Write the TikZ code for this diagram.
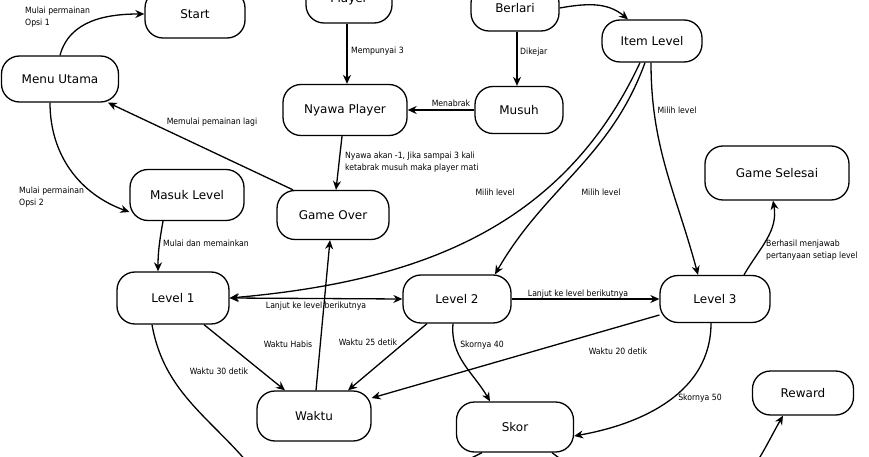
\documentclass[tikz,border=0pt]{standalone}
\usepackage{fontspec}
\setmainfont{DejaVu Sans}
\newfontfamily\condf{DejaVu Sans Condensed}
\usetikzlibrary{arrows.meta}
\begin{document}
\begin{tikzpicture}[x=1pt,y=-1pt,
 st/.style={draw,line width=1.3pt,rounded corners=18pt,inner sep=0pt,font=\fontsize{12}{14}\selectfont},
 ar/.style={line width=1.3pt,-{Stealth[length=9pt,width=8pt]}},
 ln/.style={line width=1.3pt},
 lb/.style={font=\condf\fontsize{8.6}{11.5}\selectfont,inner sep=1pt,align=left}]
\useasboundingbox (0,0) rectangle (869,457);
\clip (0,0) rectangle (869,457);
\node[st,minimum width=100pt,minimum height=48pt] (start) at (195,14) {Start};
\node[st,minimum width=86pt,minimum height=48pt] (player) at (349,-1) {Player};
\node[st,minimum width=88pt,minimum height=46pt] (berlari) at (515,8) {Berlari};
\node[st,minimum width=100pt,minimum height=42pt] (item) at (652,41) {Item Level};
\node[st,minimum width=117pt,minimum height=46pt] (menu) at (60,79) {Menu Utama};
\node[st,minimum width=124pt,minimum height=51pt] (nyawa) at (345,110) {Nyawa Player};
\node[st,minimum width=88pt,minimum height=47pt] (musuh) at (519,110) {Musuh};
\node[st,minimum width=114pt,minimum height=51pt] (masuk) at (187,195) {Masuk Level};
\node[st,minimum width=112pt,minimum height=49pt] (over) at (333,215) {Game Over};
\node[st,minimum width=144pt,minimum height=54pt] (selesai) at (777,173) {Game Selesai};
\node[st,minimum width=112pt,minimum height=52pt] (l1) at (173,298) {Level 1};
\node[st,minimum width=108pt,minimum height=48pt] (l2) at (457,299) {Level 2};
\node[st,minimum width=110pt,minimum height=47pt] (l3) at (715,299) {Level 3};
\node[st,minimum width=114pt,minimum height=50pt] (waktu) at (314,416) {Waktu};
\node[st,minimum width=117pt,minimum height=50pt] (skor) at (515,427) {Skor};
\node[st,minimum width=101pt,minimum height=44pt] (reward) at (803,393) {Reward};
\coordinate (bot) at (265,485);
\coordinate (botr) at (700,490);

\draw[ar] (menu.north) to[out=75,in=180] (start.west);
\node[lb,anchor=west] (t1) at (24,17) {Mulai permainan\\Opsi 1};
\draw[ar] ([xshift=-10pt]menu.south) to[out=-90,in=160] ([yshift=-17pt]masuk.west);
\node[lb,anchor=west] (t2) at (18,197) {Mulai permainan\\Opsi 2};
\draw[ar] ([xshift=-24pt]masuk.south) to[out=-100,in=90] ([xshift=-15pt]l1.north);
\node[lb,anchor=west] (t3) at (162,243) {Mulai dan memainkan};
\draw[ar] ([xshift=-40pt]over.north) -- ([xshift=48pt]menu.south);
\node[lb] (t4) at (212,122) {Memulai pemainan lagi};
\draw[ar] ([xshift=-2pt]player.south) -- ([xshift=2pt]nyawa.north);
\node[lb,anchor=west] (t5) at (350,51) {Mempunyai 3};
\draw[ar] ([xshift=-3pt]nyawa.south) -- ([xshift=3pt]over.north);
\node[lb,anchor=west] (t6) at (344,162) {Nyawa akan -1, Jika sampai 3 kali\\ketabrak musuh maka player mati};
\draw[ar] (musuh.west) -- (nyawa.east);
\node[lb] (t7) at (451,103) {Menabrak};
\draw[ar] ([xshift=2pt]berlari.south) -- ([xshift=-2pt]musuh.north);
\node[lb,anchor=west] (t8) at (519,52) {Dikejar};
\draw[ar] (berlari.east) to[out=10,in=140] ([xshift=-24pt]item.north);
\draw[ar] ([xshift=-12pt]item.south) to[out=-115,in=5] (l1.east);
\node[lb] (t9) at (495,192) {Milih level};
\draw[ar] ([xshift=-7pt]item.south) to[out=-110,in=60] ([xshift=38pt]l2.north);
\node[lb] (t10) at (601,192) {Milih level};
\draw[ar] ([xshift=-1pt]item.south) to[out=-90,in=105] ([xshift=-17pt]l3.north);
\node[lb] (t11) at (677,110) {Milih level};
\draw[ln,{Stealth[length=9pt,width=8pt]}-{Stealth[length=9pt,width=8pt]}] (l1.east) -- (l2.west);
\node[lb] (t12) at (316,306) {Lanjut ke level berikutnya};
\draw[ar] (l2.east) -- (l3.west);
\node[lb] (t13) at (578,294) {Lanjut ke level berikutnya};
\draw[ar] ([xshift=29pt]l3.north) to[out=60,in=-80] ([xshift=-4pt]selesai.south);
\node[lb,anchor=west] (t14) at (765,250) {Berhasil menjawab\\pertanyaan setiap level};
\draw[ar] ([xshift=31pt]l1.south) -- ([xshift=-29pt]waktu.north);
\node[lb] (t15) at (219,371) {Waktu 30 detik};
\draw[ar] ([xshift=-30pt]l2.south) -- ([xshift=34pt]waktu.north);
\node[lb] (t16) at (368,342) {Waktu 25 detik};
\draw[ar] ([yshift=-16pt]l3.west) -- ([yshift=18pt]waktu.east);
\node[lb] (t17) at (618,351) {Waktu 20 detik};
\draw[ar] ([xshift=2pt]waktu.north) -- ([xshift=-3pt]over.south);
\node[lb] (t18) at (288,344) {Waktu Habis};
\draw[ar] ([xshift=-4pt]l2.south) to[out=-95,in=120] ([xshift=-25pt]skor.north);
\node[lb] (t19) at (482,345) {Skornya 40};
\draw[ar] ([xshift=-4pt]l3.south) to[out=-90,in=10] ([yshift=-9pt]skor.east);
\node[lb] (t20) at (700,398) {Skornya 50};
\draw[ln] ([xshift=-21pt]l1.south) to[out=-80,in=125] (bot);
\draw[ln] ([xshift=-33pt]skor.south) -- ++(-12,6);
\draw[ln] ([xshift=37pt]skor.south) -- ++(8,6);
\draw[ar] (botr) to[out=-30,in=-120] ([xshift=-20pt]reward.south);
\end{tikzpicture}
\end{document}
